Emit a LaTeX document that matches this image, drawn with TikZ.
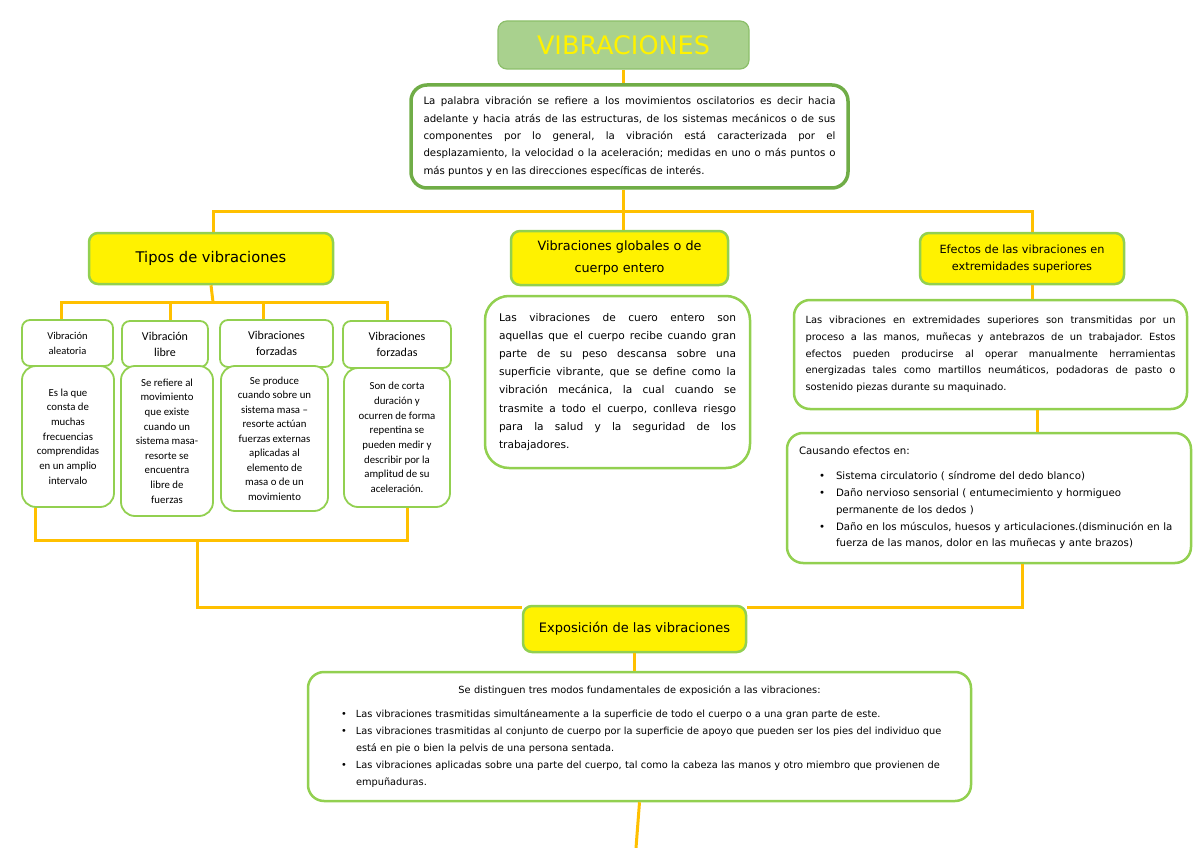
\documentclass[tikz,border=0pt]{standalone}
\usepackage{fontspec}
\newfontfamily\comic{DejaVu Sans}
\newfontfamily\calib{Carlito}
\definecolor{orng}{HTML}{FFC000}
\definecolor{leaf}{HTML}{92D050}
\definecolor{moss}{HTML}{70AD47}
\definecolor{sage}{HTML}{A9D18E}
\newcommand{\bul}[2]{\hspace*{#1pt}\makebox[#2pt][l]{\textbullet}}
\frenchspacing
\begin{document}
\begin{tikzpicture}[x=1pt, y=-1pt,
    link/.style={draw=orng, line width=3pt},
    hdr/.style={draw=leaf, line width=2.5pt, fill=yellow, rounded corners=9pt, align=center, inner sep=0pt, font=\comic},
    card/.style={draw=leaf, line width=2.5pt, fill=white, rounded corners=16pt, inner sep=0pt, font=\comic},
    tag/.style={draw=leaf, line width=1.8pt, fill=white, rounded corners=8pt, align=center, inner sep=0pt, font=\calib}]
\useasboundingbox (0,0) rectangle (1200,848);

\node[draw=moss!50!sage, line width=1.2pt, fill=sage, rounded corners=9pt, minimum width=251pt, minimum height=48pt,
      text=yellow, font=\comic\fontsize{25.5}{25}\selectfont] (title) at (623.5,45) {VIBRACIONES};
\node[card, draw=moss, line width=3.5pt, minimum width=437pt, minimum height=103pt, text width=412pt, align=justify,
      font=\comic\fontsize{10.2}{17.3}\selectfont] (desc) at (629.5,136.5)
  {La palabra vibración se refiere a los movimientos oscilatorios es decir hacia\linebreak
   adelante y hacia atrás de las estructuras, de los sistemas mecánicos o de sus\linebreak
   componentes por lo general, la vibración está caracterizada por el\linebreak
   desplazamiento, la velocidad o la aceleración; medidas en uno o más puntos o\linebreak
   más puntos y en las direcciones específicas de interés.};

\node[hdr, minimum width=244pt, minimum height=51pt, font=\comic\fontsize{14.7}{16}\selectfont] (tipos) at (211,258.5) {Tipos de vibraciones};
\node[hdr, minimum width=217pt, minimum height=54pt, font=\comic\fontsize{12.8}{22}\selectfont] (glob) at (619.5,258) {Vibraciones globales o de\\cuerpo entero};
\node[hdr, minimum width=204pt, minimum height=51pt, font=\comic\fontsize{11.3}{17}\selectfont] (efec) at (1022,258.5) {Efectos de las vibraciones en\\extremidades superiores};

\node[tag, minimum width=91pt, minimum height=46pt, font=\calib\fontsize{10.5}{15}\selectfont] (h1) at (67.5,343) {Vibración\\aleatoria};
\node[tag, minimum width=86pt, minimum height=46pt, font=\calib\fontsize{12}{16}\selectfont] (h2) at (165,344) {Vibración\\libre};
\node[tag, minimum width=113pt, minimum height=47pt, font=\calib\fontsize{12}{16}\selectfont] (h3) at (276.5,343.5) {Vibraciones\\forzadas};
\node[tag, minimum width=108pt, minimum height=47pt, font=\calib\fontsize{12}{16}\selectfont] (h4) at (397,344.5) {Vibraciones\\forzadas};

\node[tag, rounded corners=14pt, minimum width=92pt, minimum height=141pt, font=\calib\fontsize{10.8}{14.7}\selectfont] (b1) at (68,436.5)
  {Es la que\\consta de\\muchas\\frecuencias\\comprendidas\\en un amplio\\intervalo};
\node[tag, rounded corners=14pt, minimum width=92pt, minimum height=150pt, font=\calib\fontsize{10.8}{14.6}\selectfont] (b2) at (167,441)
  {Se refiere al\\movimiento\\que existe\\cuando un\\sistema masa-\\resorte se\\encuentra\\libre de\\fuerzas};
\node[tag, rounded corners=14pt, minimum width=107pt, minimum height=145pt, font=\calib\fontsize{10.8}{14.5}\selectfont] (b3) at (274.5,438.5)
  {Se produce\\cuando sobre un\\sistema masa –\\resorte actúan\\fuerzas externas\\aplicadas al\\elemento de\\masa o de un\\movimiento};
\node[tag, rounded corners=14pt, minimum width=106pt, minimum height=139pt, font=\calib\fontsize{10.8}{14.7}\selectfont] (b4) at (397,437.5)
  {Son de corta\\duración y\\ocurren de forma\\repentina se\\pueden medir y\\describir por la\\amplitud de su\\aceleración.};

\node[card, rounded corners=24pt, minimum width=265pt, minimum height=172pt, text width=237pt, align=justify,
      font=\comic\fontsize{10.6}{18.1}\selectfont] (gb) at (617.5,382)
  {Las vibraciones de cuero entero son\linebreak
   aquellas que el cuerpo recibe cuando gran\linebreak
   parte de su peso descansa sobre una\linebreak
   superficie vibrante, que se define como la\linebreak
   vibración mecánica, la cual cuando se\linebreak
   trasmite a todo el cuerpo, conlleva riesgo\linebreak
   para la salud y la seguridad de los\linebreak
   trabajadores.};

\node[card, minimum width=393pt, minimum height=109pt, text width=370pt, align=justify,
      font=\comic\fontsize{9.9}{16.7}\selectfont] (e1) at (990.5,354.5)
  {Las vibraciones en extremidades superiores son transmitidas por un\linebreak
   proceso a las manos, muñecas y antebrazos de un trabajador. Estos\linebreak
   efectos pueden producirse al operar manualmente herramientas\linebreak
   energizadas tales como martillos neumáticos, podadoras de pasto o\linebreak
   sostenido piezas durante su maquinado.};

\node[card, minimum width=404pt, minimum height=130pt, text width=380pt, align=left,
      font=\comic\fontsize{10.2}{16.8}\selectfont] (cause) at (989,498)
  {Causando efectos en:\\[8pt]
   \bul{20}{17}Sistema circulatorio ( síndrome del dedo blanco)\\
   \bul{20}{17}Daño nervioso sensorial ( entumecimiento y hormigueo\\
   \hspace*{37pt}permanente de los dedos )\\
   \bul{20}{17}Daño en los músculos, huesos y articulaciones.(disminución en la\\
   \hspace*{37pt}fuerza de las manos, dolor en las muñecas y ante brazos)};

\node[hdr, minimum width=223pt, minimum height=46pt, font=\comic\fontsize{13}{16}\selectfont] (expo) at (634.5,629) {Exposición de las vibraciones};

\node[card, minimum width=663pt, minimum height=129pt, text width=640pt, align=left,
      font=\comic\fontsize{9.8}{17}\selectfont] (eb) at (639.5,736.5)
  {\makebox[640pt]{Se distinguen tres modos fundamentales de exposición a las vibraciones:}\\[7pt]
   \bul{21.5}{15}Las vibraciones trasmitidas simultáneamente a la superficie de todo el cuerpo o a una gran parte de este.\\
   \bul{21.5}{15}Las vibraciones trasmitidas al conjunto de cuerpo por la superficie de apoyo que pueden ser los pies del individuo que\\
   \hspace*{36.5pt}está en pie o bien la pelvis de una persona sentada.\\
   \bul{21.5}{15}Las vibraciones aplicadas sobre una parte del cuerpo, tal como la cabeza las manos y otro miembro que provienen de\\
   \hspace*{36.5pt}empuñaduras.};

\coordinate (jm) at (623,211);
\coordinate (jt) at (213,302);
\coordinate (jb) at (197,540);
\coordinate (jc) at (197,607);
\coordinate (tail) at (636,848);

\draw[link] (title.south) -- (title.south |- desc.north);
\draw[link] (jm |- desc.south) -- (jm |- glob.north);
\draw[link] ([xshift=2pt]tipos.north) |- (jm) -| ([xshift=10pt]efec.north);
\draw[link] (tipos.south) -- (jt);
\foreach \n/\dx in {h1/-6, h2/5, h3/-13, h4/-10}
  \draw[link] (jt) -| ([xshift=\dx pt]\n.north);
\draw[link] ([xshift=10pt]efec.south) -- ([xshift=10pt]efec.south |- e1.north);
\draw[link] ([xshift=46.5pt]e1.south) -- ([xshift=46.5pt]e1.south |- cause.north);
\draw[link] ([xshift=-33pt]b1.south) |- (jb) -| ([xshift=10pt]b4.south);
\draw[link] (jb) -- (jc) -- (jc -| expo.west);
\draw[link] (jc -| expo.east) -| ([xshift=33pt]cause.south);
\draw[link] (expo.south) -- (expo.south |- eb.north);
\draw[link] (eb.south) -- (tail);
\end{tikzpicture}
\end{document}
